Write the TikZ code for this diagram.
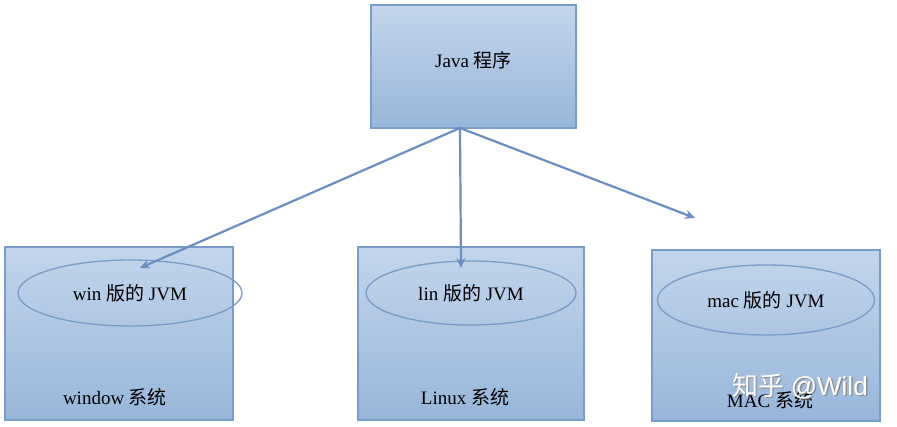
\documentclass[tikz,border=0pt]{standalone}
\usepackage{fontspec}
\setmainfont{Liberation Serif}
\newfontfamily\cjk{Noto Sans CJK SC}
\newfontfamily\wmfont{Liberation Sans}
\usetikzlibrary{arrows.meta,shapes.geometric}
\definecolor{boxtop}{HTML}{C3D5EC}
\definecolor{boxbot}{HTML}{98B6DA}
\definecolor{edge}{HTML}{7A9CC8}
\definecolor{arr}{HTML}{6A8EC0}
\begin{document}
\begin{tikzpicture}[x=1pt,y=-1pt,
  box/.style={draw=edge,line width=1.8pt,top color=boxtop,bottom color=boxbot,minimum width=#1},
  ell/.style={ellipse,draw=edge,line width=1.3pt,inner sep=0pt},
  lbl/.style={font=\fontsize{19}{19}\selectfont},
  con/.style={draw=arr,line width=2.2pt,-{Stealth[length=10pt,width=9pt]}}]
\useasboundingbox (0,0) rectangle (897,427);
\fill[white] (0,0) rectangle (897,427);
\node[box=205pt,minimum height=123pt] (top) at (473.5,66.5) {};
\node[lbl] (toptxt) at (473.5,60) {Java {\cjk 程序}};
\node[box=228pt,minimum height=173pt] (win) at (119,333.5) {};
\node[box=226pt,minimum height=173pt] (lin) at (471,333.5) {};
\node[box=228pt,minimum height=171pt] (mac) at (766,335.5) {};
\node[ell,minimum width=224pt,minimum height=66pt,lbl] (winj) at (130,293) {win {\cjk 版的} JVM};
\node[ell,minimum width=210pt,minimum height=64pt,lbl] (linj) at (471,293) {lin {\cjk 版的} JVM};
\node[ell,minimum width=217pt,minimum height=70pt,lbl] (macj) at (766,300) {mac {\cjk 版的} JVM};
\node[lbl] (wins) at (115,397) {window {\cjk 系统}};
\node[lbl] (lins) at (465,397) {Linux {\cjk 系统}};
\node[lbl] (macs) at (770,400) {MAC {\cjk 系统}};
\coordinate (src) at (460,128);
\coordinate (free) at (695,218);
\coordinate (winend) at (140,268);
\coordinate (linend) at (461,268);
\draw[con] (src) -- (winend);
\draw[con] (src) -- (linend);
\draw[con] (src) -- (free);
\node[font=\fontsize{26}{26}\selectfont,text=black!45] (wm0) at (801.5,387.5) {{\cjk 知乎} \wmfont @Wild};
\node[font=\fontsize{26}{26}\selectfont,text=white] (wm) at (800,386) {{\cjk 知乎} \wmfont @Wild};
\end{tikzpicture}
\end{document}
